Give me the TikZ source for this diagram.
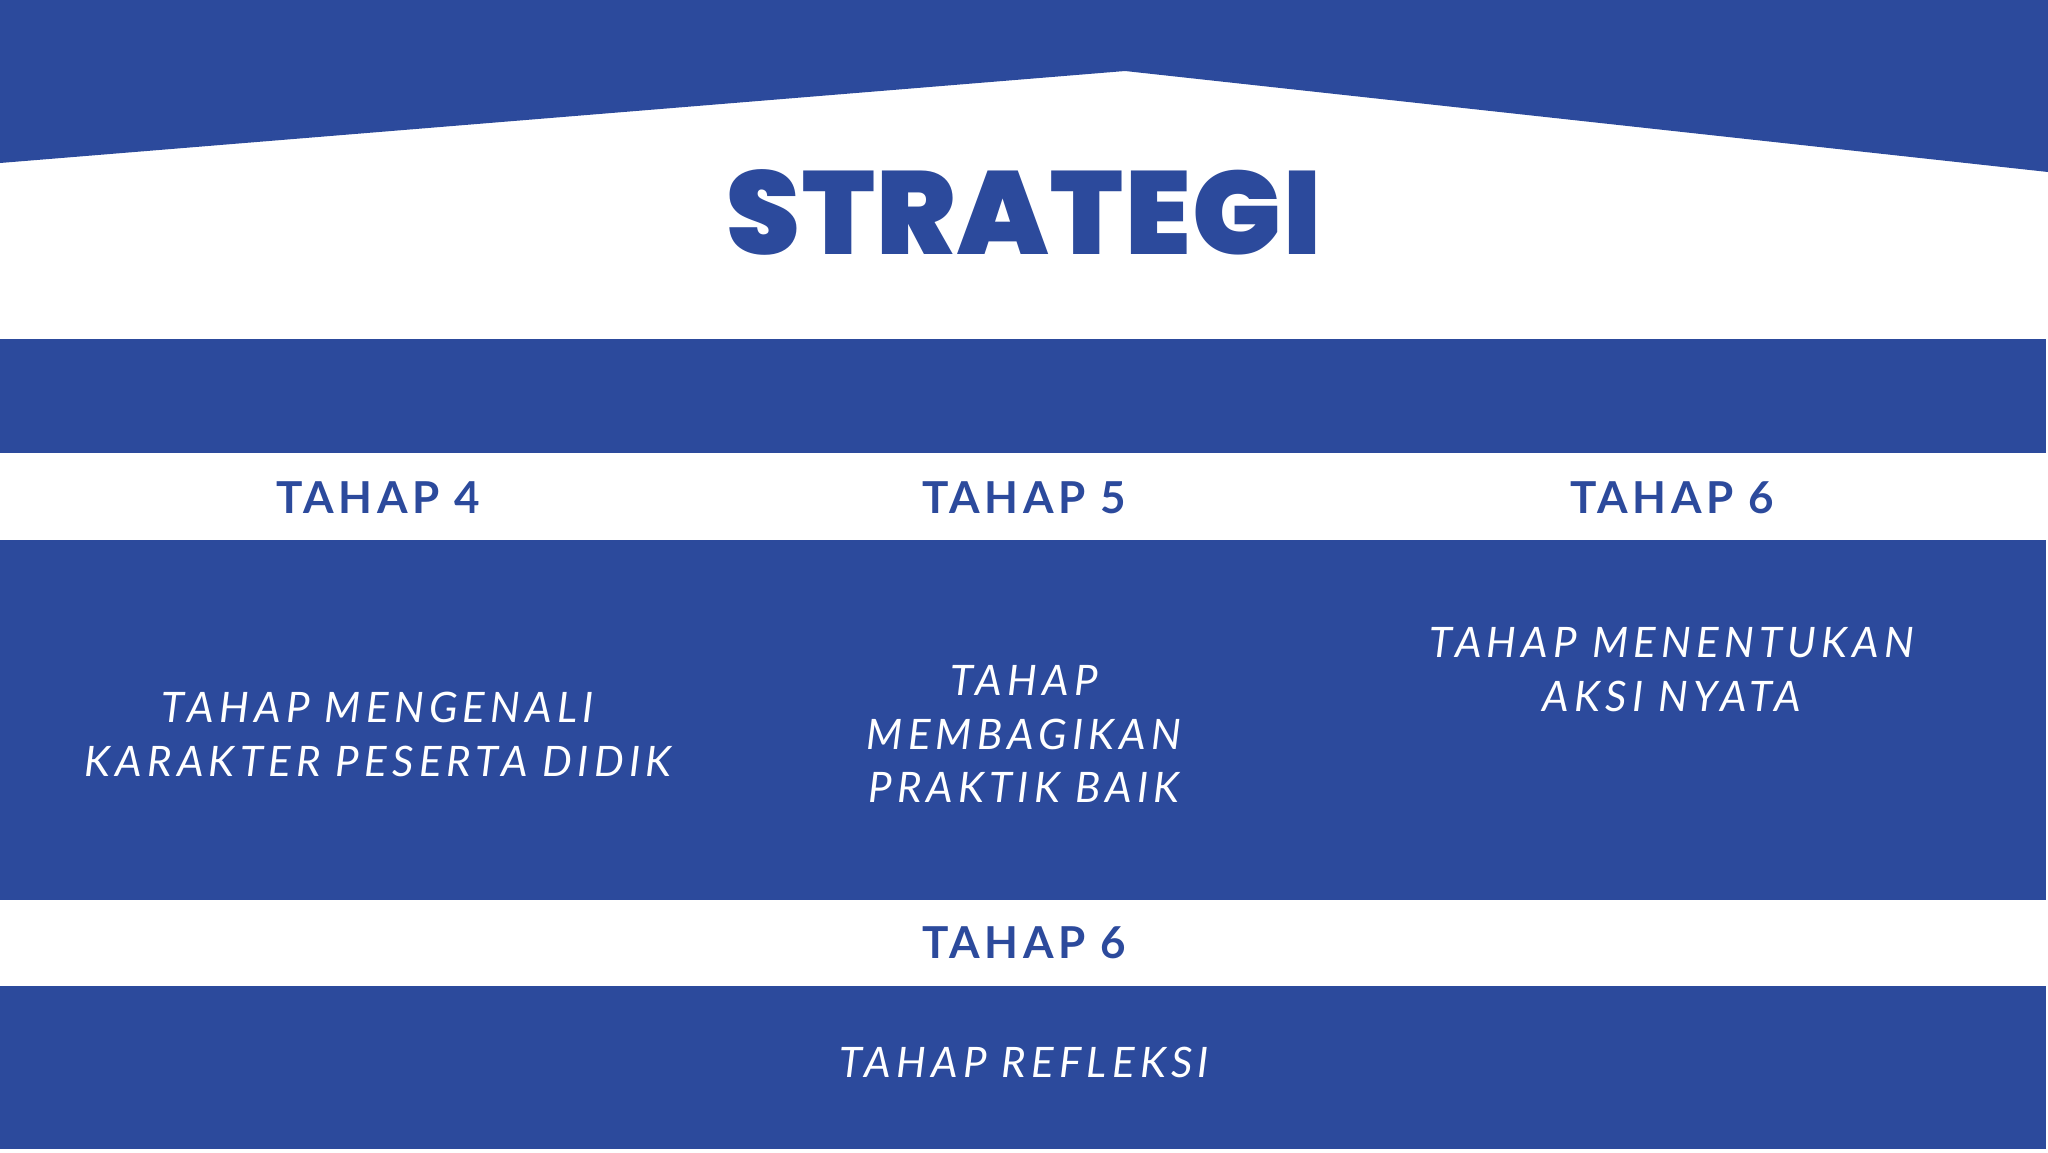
\documentclass[tikz,border=0pt]{standalone}
\usepackage{fontspec}
\newfontfamily\titlefont[LetterSpace=1.5]{Poppins Black}
\newfontfamily\headfont[LetterSpace=10]{Lato}
\newfontfamily\bodyfont[LetterSpace=12.5]{Lato}
\definecolor{bandblue}{HTML}{2C4A9C}
\tikzset{
  band/.style={fill=bandblue, draw=none},
  titletext/.style={text=bandblue, inner sep=0pt, font={\titlefont\fontsize{118}{118}\selectfont}},
  headtext/.style={text=bandblue, inner sep=0pt, font={\headfont\bfseries\fontsize{44}{44}\selectfont}},
  bodytext/.style={text=white, inner sep=0pt, align=center, font={\bodyfont\itshape\fontsize{42}{53.5}\selectfont}}
}
\begin{document}
\begin{tikzpicture}[x=1pt, y=-1pt]
\useasboundingbox (0,0) rectangle (2048,1152);
\fill[white] (0,0) rectangle (2048,1152);
% top roof
\path[band] (0,0) -- (2048,0) -- (2048,172) -- (1125,71) -- (0,163) -- cycle;
% bands
\path[band] (0,339) rectangle (2046,453);
\path[band] (0,540) rectangle (2046,900);
\path[band] (0,986) rectangle (2046,1149);
% title
\node[titletext] (title) at (1024,212) {STRATEGI};
% headers
\node[headtext] (h4) at (378,498) {TAHAP 4};
\node[headtext] (h5) at (1024,498) {TAHAP 5};
\node[headtext] (h6) at (1672,498) {TAHAP 6};
\node[headtext] (h6b) at (1024,943) {TAHAP 6};
% bodies
\node[bodytext] (b4) at (378,734.5) {TAHAP MENGENALI\\KARAKTER PESERTA DIDIK};
\node[bodytext] (b5) at (1024,734) {TAHAP\\MEMBAGIKAN\\PRAKTIK BAIK};
\node[bodytext] (b6) at (1672,669.5) {TAHAP MENENTUKAN\\AKSI NYATA};
\node[bodytext] (br) at (1024,1062) {TAHAP REFLEKSI};
\end{tikzpicture}
\end{document}
